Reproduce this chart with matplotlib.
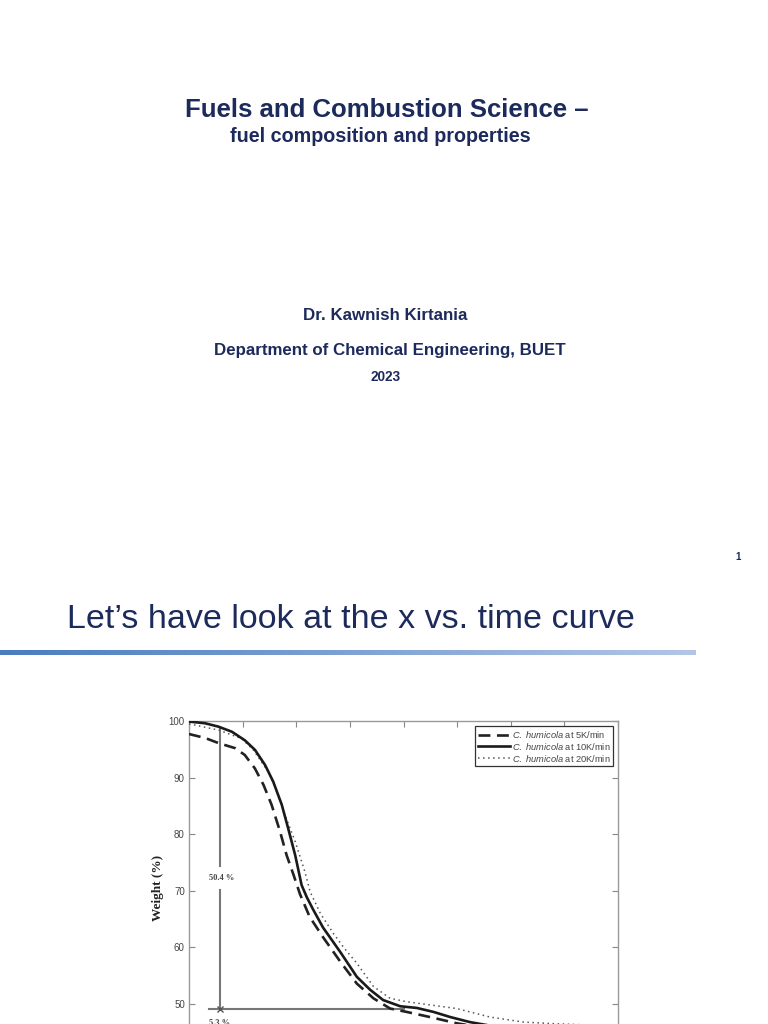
import numpy as np
import matplotlib
matplotlib.use("Agg")
import matplotlib.pyplot as plt
from matplotlib.colors import LinearSegmentedColormap

plt.rcParams['font.family'] = ['Liberation Sans', 'DejaVu Sans']
plt.rcParams['mathtext.fontset'] = 'custom'
plt.rcParams['mathtext.it'] = 'Liberation Sans:italic'
plt.rcParams['mathtext.rm'] = 'Liberation Sans'

# ---------------- data ----------------
temp_5K = [0, 30, 55, 86, 104, 123, 139, 154, 170, 182, 195, 207, 225, 250, 282, 313,
           344, 375, 406, 449, 499, 550, 600, 700, 800]
w_5K = [97.7, 97.0, 96.1, 95.2, 94.0, 91.6, 88.7, 85.2, 80.4, 76.3, 72.8, 69.4, 65.4,
        61.8, 57.5, 53.6, 51.0, 49.2, 48.6, 47.7, 46.6, 45.8, 45.2, 44.4, 43.9]

temp_10K = [0, 30, 55, 80, 104, 123, 142, 157, 173, 185, 198, 210, 220, 232, 250, 282,
            313, 338, 362, 394, 425, 456, 487, 524, 560, 600, 700, 800]
w_10K = [99.9, 99.6, 99.0, 98.1, 96.6, 94.9, 92.2, 89.3, 85.2, 81.0, 76.3, 71.0, 68.8,
         66.6, 63.5, 59.2, 54.8, 52.5, 50.7, 49.6, 49.3, 48.6, 47.7, 46.8, 46.2, 45.7,
         45.0, 44.6]

temp_20K = [0, 55, 98, 120, 148, 165, 179, 198, 216, 226, 245, 269, 290, 313, 344, 375,
            406, 437, 499, 561, 624, 686, 800]
w_20K = [99.5, 98.4, 96.9, 94.9, 91.0, 87.3, 83.4, 78.7, 73.4, 69.8, 66.0, 62.5, 59.8,
         57.2, 53.1, 51.0, 50.4, 50.0, 49.2, 47.7, 46.8, 46.5, 46.1]

series_labels = [r"$\mathit{C.\ humicola}$ at 5K/min",
                 r"$\mathit{C.\ humicola}$ at 10K/min",
                 r"$\mathit{C.\ humicola}$ at 20K/min"]

y_ticks = [50, 60, 70, 80, 90, 100]
x_ticks = [0, 100, 200, 300, 400, 500, 600, 700, 800]

ann_x = 57
ann_top = 98.7
ann_gap = (74.3, 70.1)
ann_level = 49.2
ann_h_start, ann_h_end = 38, 400
ann_texts = ["50.4 %", "5.3 %"]

navy = "#1c2a5c"

# ---------------- figure ----------------
W, H = 768, 1024
fig = plt.figure(figsize=(W / 100, H / 100), dpi=100)
fig.patch.set_facecolor("white")

def fx(px):
    return px / W

def fy(py):
    return 1 - py / H

# Title slide texts
fig.text(fx(386.5), fy(110), "Fuels and Combustion Science \u2013", ha="center", va="center",
         fontsize=18.5, fontweight="bold", color=navy)
fig.text(fx(380.5), fy(137), "fuel composition and properties", ha="center", va="center",
         fontsize=14.2, fontweight="bold", color=navy)
fig.text(fx(385.5), fy(315), "Dr. Kawnish Kirtania", ha="center", va="center",
         fontsize=12.2, fontweight="bold", color=navy)
fig.text(fx(390), fy(351), "Department of Chemical Engineering, BUET", ha="center", va="center",
         fontsize=12.2, fontweight="bold", color=navy)
fig.text(fx(386), fy(377), "2023", ha="center", va="center",
         fontsize=9.8, fontweight="bold", color=navy)
fig.text(fx(738), fy(557), "1", ha="center", va="center",
         fontsize=7, fontweight="bold", color=navy)

# Second slide title
fig.text(fx(67), fy(619), "Let\u2019s have look at the x vs. time curve", ha="left", va="center",
         fontsize=24.5, color=navy)

# gradient bar
bar_ax = fig.add_axes([0, fy(655), fx(696), 5 / H])
grad = np.linspace(0, 1, 256).reshape(1, -1)
cmap = LinearSegmentedColormap.from_list("bar", ["#4a7cc0", "#b3c6e6"])
bar_ax.imshow(grad, aspect="auto", cmap=cmap, extent=[0, 1, 0, 1])
bar_ax.set_axis_off()

# ---------------- chart ----------------
y_lo, y_hi = 20, 100
px_per_unit = (1004 - 721) / 50.0
ax_top = 721
ax_bottom = ax_top + (y_hi - y_lo) * px_per_unit
ax = fig.add_axes([fx(189), fy(ax_bottom), fx(618) - fx(189), (ax_bottom - ax_top) / H])
ax.set_xlim(0, 800)
ax.set_ylim(y_lo, y_hi)

ax.plot(temp_5K, w_5K, color="#222222", lw=1.9, ls=(0, (4.5, 2.5)), label=series_labels[0], zorder=3)
ax.plot(temp_10K, w_10K, color="#1a1a1a", lw=1.9, ls="-", label=series_labels[1], zorder=4)
ax.plot(temp_20K, w_20K, color="#555555", lw=1.1, ls=(0, (1, 2.3)), label=series_labels[2], zorder=3)

# annotation lines
ann_color = "#777777"
ax.plot([ann_x, ann_x], [ann_top, ann_gap[0]], color=ann_color, lw=1.5, zorder=2)
ax.plot([ann_x, ann_x], [ann_gap[1], ann_level], color=ann_color, lw=1.5, zorder=2)
ax.plot([ann_h_start, ann_h_end], [ann_level, ann_level], color=ann_color, lw=1.5, zorder=2)
ax.plot([ann_x], [ann_level], marker="x", color="#555555", ms=4, mew=1, zorder=5)
ax.text(ann_h_start, (ann_gap[0] + ann_gap[1]) / 2, ann_texts[0], ha="left", va="center",
        fontsize=6, fontweight="bold", family="Liberation Serif", color="#444444")
ax.text(ann_h_start, 47.3, ann_texts[1], ha="left", va="top",
        fontsize=6, fontweight="bold", family="Liberation Serif", color="#444444")

ax.set_yticks(y_ticks)
ax.set_yticklabels([str(v) for v in y_ticks])
ax.set_xticks(x_ticks)
ax.tick_params(axis="both", direction="in", length=4, width=0.8, color="#888888",
               labelsize=7, labelcolor="#444444", pad=3,
               top=True, right=True, labelbottom=False)
for sp in ax.spines.values():
    sp.set_color("#999999")
    sp.set_linewidth(1.0)

fig.text(fx(158), fy(888), "Weight (%)", rotation=90, ha="center", va="center",
         fontsize=9.5, fontweight="bold", family="Liberation Serif", color="#222222")

leg = ax.legend(loc="upper right", bbox_to_anchor=(fx(613), fy(726)),
                bbox_transform=fig.transFigure, fontsize=6.7, frameon=True,
                fancybox=False, framealpha=1, edgecolor="#333333",
                handlelength=3.4, handletextpad=0.2, borderpad=0.3,
                labelspacing=0.1, borderaxespad=0)
leg.get_frame().set_linewidth(0.9)
for t in leg.get_texts():
    t.set_color("#444444")

fig.savefig("out.png", dpi=100)
